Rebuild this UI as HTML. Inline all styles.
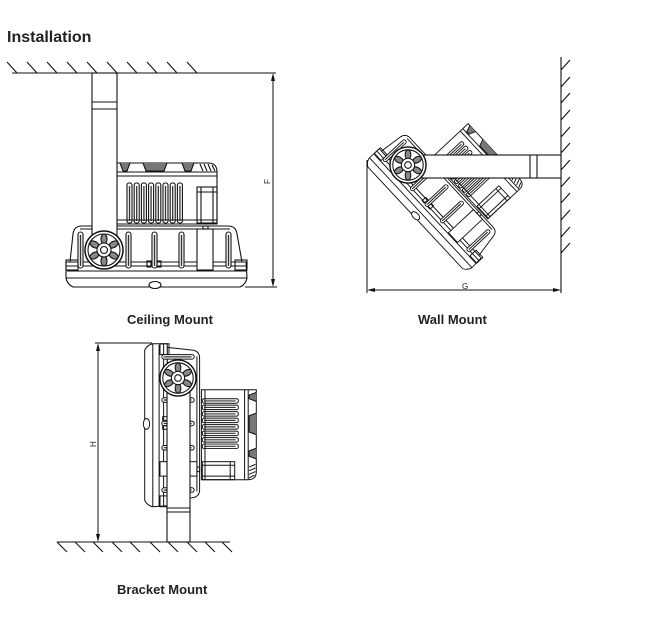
<!DOCTYPE html>
<html><head><meta charset="utf-8"><style>
html,body{margin:0;padding:0;background:#fff;}
body{width:648px;height:644px;overflow:hidden;position:relative;}
svg{position:absolute;left:0;top:0;}
.t{font-family:"Liberation Sans",sans-serif;fill:#222;}
</style></head><body>
<svg width="648" height="644" viewBox="0 0 648 644" xmlns="http://www.w3.org/2000/svg">
<defs>
<g id="fx" fill="none" stroke="#111" stroke-width="1.1">
  <path d="M117,224 L117,163 L208,163 Q217,163 217,172 L217,224 Z" fill="#fff"/>
  <line x1="117" y1="172" x2="217" y2="172"/>
  <line x1="117" y1="176" x2="217" y2="176"/>
  <path d="M120,163 L123,171 L127,171 L130,163" fill="#777"/>
  <path d="M143,163 L146,171 L164,171 L167,163" fill="#777"/>
  <path d="M182,163 L185,171 L191,171 L194,163" fill="#777"/>
  <line x1="200" y1="164" x2="203" y2="171"/><line x1="204" y1="164" x2="207" y2="171"/><line x1="208" y1="164" x2="211" y2="171"/><line x1="212" y1="165" x2="215" y2="171"/>
  <rect x="127" y="183" width="5" height="40" rx="2" fill="#fff"/>
  <rect x="134.2" y="183" width="5" height="40" rx="2" fill="#fff"/>
  <rect x="141.4" y="183" width="5" height="40" rx="2" fill="#fff"/>
  <rect x="148.6" y="183" width="5" height="40" rx="2" fill="#fff"/>
  <rect x="155.8" y="183" width="5" height="40" rx="2" fill="#fff"/>
  <rect x="163" y="183" width="5" height="40" rx="2" fill="#fff"/>
  <rect x="170.2" y="183" width="5" height="40" rx="2" fill="#fff"/>
  <rect x="177.4" y="183" width="5" height="40" rx="2" fill="#fff"/>
  <g stroke="#333" stroke-width="1.3">
  <line x1="129.5" y1="186" x2="129.5" y2="221"/><line x1="136.7" y1="186" x2="136.7" y2="221"/>
  <line x1="143.9" y1="186" x2="143.9" y2="221"/><line x1="151.1" y1="186" x2="151.1" y2="221"/>
  <line x1="158.3" y1="186" x2="158.3" y2="221"/><line x1="165.5" y1="186" x2="165.5" y2="221"/>
  <line x1="172.7" y1="186" x2="172.7" y2="221"/><line x1="179.9" y1="186" x2="179.9" y2="221"/>
  </g>
  <line x1="117" y1="220" x2="217" y2="220"/>
  <rect x="197" y="187" width="20" height="36"/>
  <line x1="201" y1="187" x2="201" y2="223"/><line x1="213" y1="187" x2="213" y2="223"/>
  <line x1="197" y1="192" x2="217" y2="192"/>
  <path d="M70,262 L73,234 Q74,226 82,226 L228,226 Q236,226 237,234 L242,262 Z" fill="#fff"/>
  <line x1="80" y1="229" x2="230" y2="229"/>
  <path d="M66,262 L246,262 L247,278 Q246,284 240,287 L73,287 Q67,284 66,278 Z" fill="#fff"/>
  <line x1="66" y1="266" x2="247" y2="266"/>
  <line x1="67" y1="271" x2="247" y2="271"/>
  <line x1="66" y1="278" x2="247" y2="278"/>
  <rect x="66" y="260" width="12" height="10"/>
  <rect x="235" y="260" width="12" height="10"/>
  <g fill="#fff">
  <rect x="78" y="232" width="5" height="36" rx="2.5"/>
  <rect x="126" y="232" width="5" height="36" rx="2.5"/>
  <rect x="152" y="232" width="5" height="36" rx="2.5"/>
  <rect x="179" y="232" width="5" height="36" rx="2.5"/>
  <rect x="226" y="232" width="5" height="36" rx="2.5"/>
  </g>
  <g stroke="#333" stroke-width="1.4">
  <line x1="80.5" y1="235" x2="80.5" y2="266"/><line x1="128.5" y1="235" x2="128.5" y2="266"/>
  <line x1="154.5" y1="235" x2="154.5" y2="266"/><line x1="181.5" y1="235" x2="181.5" y2="266"/>
  <line x1="228.5" y1="235" x2="228.5" y2="266"/>
  </g>
  <rect x="197" y="229" width="16" height="41" fill="#fff"/>
  <rect x="203" y="226" width="5" height="3"/>
  <rect x="147" y="261" width="4" height="6"/>
  <rect x="157" y="261" width="4" height="6"/>
  <ellipse cx="155" cy="285" rx="6" ry="3.5" fill="#fff"/>
</g>
<g id="kn" stroke="#111" stroke-width="1.1">
  <circle r="19" fill="#fff" stroke-width="1.5"/>
  <circle r="16" fill="none"/>
  <g fill="#888">
  <ellipse cx="0" cy="-11" rx="3" ry="5" />
  <ellipse cx="0" cy="11" rx="3" ry="5" />
  <ellipse cx="0" cy="-11" rx="3" ry="5" transform="rotate(60)"/>
  <ellipse cx="0" cy="-11" rx="3" ry="5" transform="rotate(120)"/>
  <ellipse cx="0" cy="-11" rx="3" ry="5" transform="rotate(240)"/>
  <ellipse cx="0" cy="-11" rx="3" ry="5" transform="rotate(300)"/>
  </g>
  <circle r="7" fill="#fff"/>
  <circle r="3.5" fill="#fff"/>
</g>
</defs>

<text class="t" x="7" y="42" font-size="16" font-weight="bold">Installation</text>

<g stroke="#111" stroke-width="1.1" fill="none">
  <line x1="12" y1="73" x2="276" y2="73"/>
  <line x1="7" y1="62" x2="17" y2="73"/><line x1="27" y1="62" x2="37" y2="73"/>
  <line x1="47" y1="62" x2="57" y2="73"/><line x1="67" y1="62" x2="77" y2="73"/>
  <line x1="87" y1="62" x2="97" y2="73"/><line x1="107" y1="62" x2="117" y2="73"/>
  <line x1="127" y1="62" x2="137" y2="73"/><line x1="147" y1="62" x2="157" y2="73"/>
  <line x1="167" y1="62" x2="177" y2="73"/><line x1="187" y1="62" x2="197" y2="73"/>
</g>
<use href="#fx"/>
<g stroke="#111" stroke-width="1.1" fill="#fff">
  <rect x="92" y="73" width="25" height="165"/>
  <line x1="92" y1="102" x2="117" y2="102"/>
  <line x1="92" y1="109" x2="117" y2="109"/>
</g>
<use href="#kn" transform="translate(104,250)"/>
<g stroke="#111" stroke-width="1" fill="none">
  <line x1="273" y1="75" x2="273" y2="285"/>
  <line x1="245" y1="287" x2="277" y2="287"/>
</g>
<path d="M273,73 L271,81 L275,81 Z M273,287 L271,279 L275,279 Z" fill="#111"/>
<text class="t" x="0" y="0" font-size="8" transform="translate(270,184) rotate(-90)">F</text>

<text class="t" x="127" y="324" font-size="13" font-weight="bold">Ceiling Mount</text>

<g stroke="#111" stroke-width="1.1" fill="none">
  <line x1="561" y1="57" x2="561" y2="293"/>
  <line x1="561" y1="70" x2="570" y2="60"/><line x1="561" y1="87" x2="570" y2="77"/>
  <line x1="561" y1="103" x2="570" y2="93"/><line x1="561" y1="120" x2="570" y2="110"/>
  <line x1="561" y1="137" x2="570" y2="127"/><line x1="561" y1="153" x2="570" y2="143"/>
  <line x1="561" y1="170" x2="570" y2="160"/><line x1="561" y1="187" x2="570" y2="177"/>
  <line x1="561" y1="203" x2="570" y2="193"/><line x1="561" y1="220" x2="570" y2="210"/>
  <line x1="561" y1="237" x2="570" y2="227"/><line x1="561" y1="253" x2="570" y2="243"/>
</g>
<use href="#fx" transform="translate(408,165) rotate(47) scale(0.83) translate(-104,-250)"/>
<g stroke="#111" stroke-width="1.1" fill="#fff">
  <rect x="410" y="155" width="151" height="23"/>
  <line x1="530" y1="155" x2="530" y2="178"/>
  <line x1="537" y1="155" x2="537" y2="178"/>
</g>
<use href="#kn" transform="translate(408,165) scale(0.95)"/>
<g stroke="#111" stroke-width="1" fill="none">
  <line x1="367" y1="160" x2="367" y2="293"/>
  <line x1="369" y1="290" x2="559" y2="290"/>
</g>
<path d="M367,290 L375,288 L375,292 Z M561,290 L553,288 L553,292 Z" fill="#111"/>
<text class="t" x="462" y="289" font-size="8">G</text>

<text class="t" x="418" y="324" font-size="13" font-weight="bold">Wall Mount</text>

<use href="#fx" transform="translate(178,378) rotate(90) scale(0.9) translate(-104,-250)"/>
<g stroke="#111" stroke-width="1.1" fill="#fff">
  <rect x="167" y="380" width="23" height="162"/>
  <line x1="167" y1="508" x2="190" y2="508"/>
  <line x1="167" y1="512" x2="190" y2="512"/>
</g>
<use href="#kn" transform="translate(178,378) scale(0.95)"/>
<g stroke="#111" stroke-width="1.1" fill="none">
  <line x1="57" y1="542" x2="230" y2="542"/>
  <line x1="57" y1="542" x2="67" y2="552"/><line x1="75" y1="542" x2="85" y2="552"/>
  <line x1="93" y1="542" x2="103" y2="552"/><line x1="112" y1="542" x2="122" y2="552"/>
  <line x1="130" y1="542" x2="140" y2="552"/><line x1="150" y1="542" x2="160" y2="552"/>
  <line x1="168" y1="542" x2="178" y2="552"/><line x1="187" y1="542" x2="197" y2="552"/>
  <line x1="205" y1="542" x2="215" y2="552"/><line x1="222" y1="542" x2="232" y2="552"/>
</g>
<g stroke="#111" stroke-width="1" fill="none">
  <line x1="98" y1="345" x2="98" y2="540"/>
  <line x1="95" y1="343" x2="152" y2="343"/>
</g>
<path d="M98,343 L96,351 L100,351 Z M98,542 L96,534 L100,534 Z" fill="#111"/>
<text class="t" x="0" y="0" font-size="8" transform="translate(96,447) rotate(-90)">H</text>

<text class="t" x="117" y="594" font-size="13" font-weight="bold">Bracket Mount</text>
</svg>
</body></html>
